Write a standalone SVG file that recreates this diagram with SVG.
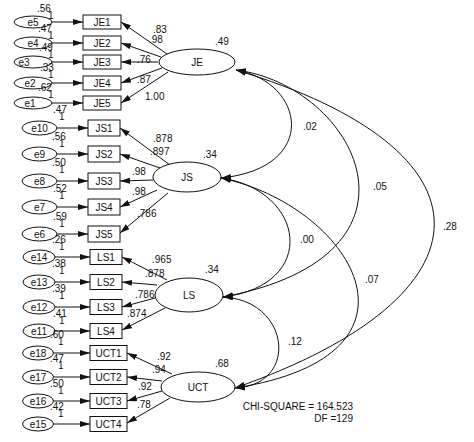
<svg xmlns="http://www.w3.org/2000/svg" width="474" height="442" viewBox="0 0 474 442">
<style>
text{font-family:"Liberation Sans",Arial,sans-serif;font-size:10px;fill:#111}
.c{text-anchor:middle}
.n ellipse,.n rect{fill:#fff;stroke:#111;stroke-width:1}
.ln{fill:none;stroke:#111;stroke-width:1}
.a{marker-end:url(#ah)}
.d{marker-start:url(#ah);marker-end:url(#ah)}
</style>
<defs>
<marker id="ah" markerWidth="10" markerHeight="6" refX="10" refY="3" orient="auto-start-reverse" markerUnits="userSpaceOnUse"><path d="M0,0 L10,3 L0,6 z" fill="#111"/></marker>
</defs>
<rect width="474" height="442" fill="#fff"/>
<g id="connectors" class="ln">
<line class="a" x1="52" y1="22" x2="83" y2="22"/>
<line class="a" x1="52" y1="43" x2="83" y2="43"/>
<line class="a" x1="52" y1="62" x2="83" y2="62"/>
<line class="a" x1="52" y1="83" x2="83" y2="83"/>
<line class="a" x1="52" y1="103" x2="83" y2="103"/>
<line class="a" x1="57" y1="128" x2="88" y2="128"/>
<line class="a" x1="57" y1="154" x2="88" y2="154"/>
<line class="a" x1="57" y1="181" x2="88" y2="181"/>
<line class="a" x1="57" y1="207" x2="88" y2="207"/>
<line class="a" x1="57" y1="234" x2="88" y2="234"/>
<line class="a" x1="55" y1="257" x2="90" y2="257"/>
<line class="a" x1="55" y1="282" x2="90" y2="282"/>
<line class="a" x1="55" y1="307" x2="90" y2="307"/>
<line class="a" x1="55" y1="331" x2="90" y2="331"/>
<line class="a" x1="53" y1="353" x2="90" y2="353"/>
<line class="a" x1="53" y1="377" x2="90" y2="377"/>
<line class="a" x1="53" y1="401" x2="90" y2="401"/>
<line class="a" x1="53" y1="424" x2="90" y2="424"/>
<line class="a" x1="167" y1="54" x2="121" y2="22"/>
<line class="a" x1="161" y1="57" x2="121" y2="43"/>
<line class="a" x1="158" y1="62" x2="121" y2="62"/>
<line class="a" x1="162" y1="68" x2="121" y2="83"/>
<line class="a" x1="168" y1="72" x2="121" y2="103"/>
<line class="a" x1="170" y1="165" x2="120" y2="128"/>
<line class="a" x1="160" y1="168" x2="120" y2="154"/>
<line class="a" x1="153" y1="180" x2="120" y2="181"/>
<line class="a" x1="157" y1="190" x2="120" y2="207"/>
<line class="a" x1="168" y1="193" x2="120" y2="233"/>
<line class="a" x1="167" y1="280" x2="122" y2="257"/>
<line class="a" x1="157" y1="285" x2="122" y2="282"/>
<line class="a" x1="155" y1="298" x2="122" y2="307"/>
<line class="a" x1="165" y1="308" x2="122" y2="330"/>
<line class="a" x1="172" y1="374" x2="127" y2="353"/>
<line class="a" x1="162" y1="381" x2="127" y2="377"/>
<line class="a" x1="162" y1="391" x2="127" y2="401"/>
<line class="a" x1="170" y1="398" x2="127" y2="423"/>
<path class="d" d="M236,70 C305,82 320,168 221,178"/>
<path class="d" d="M236,70 C355,85 445,255 223,297"/>
<path class="d" d="M236,70 C501,150 500,295 235,388"/>
<path class="d" d="M221,178 C305,190 320,285 223,297"/>
<path class="d" d="M221,178 C350,205 445,355 235,388"/>
<path class="d" d="M223,297 C290,300 300,385 235,388"/>
</g>
<g id="e5" class="n"><ellipse cx="33" cy="22" rx="19" ry="6"/><text class="c" x="33" y="26">e5</text></g>
<g id="e4" class="n"><ellipse cx="33" cy="43" rx="19" ry="6"/><text class="c" x="33" y="47">e4</text></g>
<g id="e3" class="n"><ellipse cx="33" cy="62" rx="19" ry="6"/><text class="c" x="24" y="66">e3</text></g>
<g id="e2" class="n"><ellipse cx="33" cy="83" rx="19" ry="6"/><text class="c" x="30" y="87">e2</text></g>
<g id="e1" class="n"><ellipse cx="33" cy="103" rx="19" ry="6"/><text class="c" x="30" y="107">e1</text></g>
<g id="e10" class="n"><ellipse cx="39.5" cy="128" rx="17.5" ry="7"/><text class="c" x="39.5" y="132">e10</text></g>
<g id="e9" class="n"><ellipse cx="39.5" cy="154" rx="17.5" ry="7"/><text class="c" x="39.5" y="158">e9</text></g>
<g id="e8" class="n"><ellipse cx="39.5" cy="181" rx="17.5" ry="7"/><text class="c" x="39.5" y="185">e8</text></g>
<g id="e7" class="n"><ellipse cx="39.5" cy="207" rx="17.5" ry="7"/><text class="c" x="39.5" y="211">e7</text></g>
<g id="e6" class="n"><ellipse cx="39.5" cy="234" rx="17.5" ry="7"/><text class="c" x="39.5" y="238">e6</text></g>
<g id="e14" class="n"><ellipse cx="39" cy="257" rx="16" ry="7"/><text class="c" x="39" y="261">e14</text></g>
<g id="e13" class="n"><ellipse cx="39" cy="282" rx="16" ry="7"/><text class="c" x="39" y="286">e13</text></g>
<g id="e12" class="n"><ellipse cx="39" cy="307" rx="16" ry="7"/><text class="c" x="39" y="311">e12</text></g>
<g id="e11" class="n"><ellipse cx="39" cy="331" rx="16" ry="7"/><text class="c" x="39" y="335">e11</text></g>
<g id="e18" class="n"><ellipse cx="38" cy="353" rx="15.5" ry="7"/><text class="c" x="38" y="357">e18</text></g>
<g id="e17" class="n"><ellipse cx="38" cy="377" rx="15.5" ry="7"/><text class="c" x="38" y="381">e17</text></g>
<g id="e16" class="n"><ellipse cx="38" cy="401" rx="15.5" ry="7"/><text class="c" x="38" y="405">e16</text></g>
<g id="e15" class="n"><ellipse cx="38" cy="424" rx="15.5" ry="7"/><text class="c" x="38" y="428">e15</text></g>
<g id="JE1" class="n"><rect x="83" y="15" width="38" height="14"/><text class="c" x="102" y="26">JE1</text></g>
<g id="JE2" class="n"><rect x="83" y="36" width="38" height="14"/><text class="c" x="102" y="47">JE2</text></g>
<g id="JE3" class="n"><rect x="83" y="55" width="38" height="14"/><text class="c" x="102" y="66">JE3</text></g>
<g id="JE4" class="n"><rect x="83" y="76" width="38" height="14"/><text class="c" x="102" y="87">JE4</text></g>
<g id="JE5" class="n"><rect x="83" y="96" width="38" height="14"/><text class="c" x="102" y="107">JE5</text></g>
<g id="JS1" class="n"><rect x="88" y="120" width="32" height="16"/><text class="c" x="104" y="132">JS1</text></g>
<g id="JS2" class="n"><rect x="88" y="146" width="32" height="16"/><text class="c" x="104" y="158">JS2</text></g>
<g id="JS3" class="n"><rect x="88" y="173" width="32" height="16"/><text class="c" x="104" y="185">JS3</text></g>
<g id="JS4" class="n"><rect x="88" y="199" width="32" height="16"/><text class="c" x="104" y="211">JS4</text></g>
<g id="JS5" class="n"><rect x="88" y="226" width="32" height="16"/><text class="c" x="104" y="238">JS5</text></g>
<g id="LS1" class="n"><rect x="90" y="249.5" width="32" height="15"/><text class="c" x="106" y="261">LS1</text></g>
<g id="LS2" class="n"><rect x="90" y="274.5" width="32" height="15"/><text class="c" x="106" y="286">LS2</text></g>
<g id="LS3" class="n"><rect x="90" y="299.5" width="32" height="15"/><text class="c" x="106" y="311">LS3</text></g>
<g id="LS4" class="n"><rect x="90" y="323.5" width="32" height="15"/><text class="c" x="106" y="335">LS4</text></g>
<g id="UCT1" class="n"><rect x="90" y="345.5" width="37" height="15"/><text class="c" x="108.5" y="357">UCT1</text></g>
<g id="UCT2" class="n"><rect x="90" y="369.5" width="37" height="15"/><text class="c" x="108.5" y="381">UCT2</text></g>
<g id="UCT3" class="n"><rect x="90" y="393.5" width="37" height="15"/><text class="c" x="108.5" y="405">UCT3</text></g>
<g id="UCT4" class="n"><rect x="90" y="416.5" width="37" height="15"/><text class="c" x="108.5" y="428">UCT4</text></g>
<g id="JE" class="n"><ellipse cx="197" cy="62" rx="38" ry="13"/><text class="c" x="197" y="66">JE</text></g>
<g id="JS" class="n"><ellipse cx="187" cy="177" rx="34" ry="15"/><text class="c" x="187" y="181">JS</text></g>
<g id="LS" class="n"><ellipse cx="189" cy="295" rx="34" ry="17"/><text class="c" x="189" y="299">LS</text></g>
<g id="UCT" class="n"><ellipse cx="198" cy="387" rx="37" ry="15"/><text class="c" x="198" y="391">UCT</text></g>
<g id="labels">
<text x="37" y="12">.56</text><text x="48" y="19">1</text>
<text x="38" y="32">.47</text><text x="48" y="39">1</text>
<text x="39" y="51">.49</text><text x="48" y="58">1</text>
<text x="40" y="71">.33</text><text x="48" y="78">1</text>
<text x="38" y="91">.62</text><text x="48" y="98">1</text>
<text x="53" y="113">.47</text><text x="59" y="120">1</text>
<text x="52" y="140">.56</text><text x="59" y="147">1</text>
<text x="52" y="166">.50</text><text x="59" y="173">1</text>
<text x="53" y="192">.52</text><text x="59" y="199">1</text>
<text x="53" y="220">.59</text><text x="59" y="227">1</text>
<text x="52" y="243">.26</text><text x="59" y="250">1</text>
<text x="52" y="267">.38</text><text x="59" y="274">1</text>
<text x="52" y="292">.39</text><text x="59" y="299">1</text>
<text x="53" y="317">.41</text><text x="59" y="324">1</text>
<text x="50" y="338">.60</text><text x="58" y="345">1</text>
<text x="50" y="362">.47</text><text x="58" y="369">1</text>
<text x="50" y="387">.50</text><text x="58" y="394">1</text>
<text x="50" y="410">.42</text><text x="58" y="417">1</text>
<text x="153" y="33">.83</text><text x="149" y="43">.98</text><text x="137" y="63">.76</text><text x="137" y="83">.87</text><text x="145" y="100">1.00</text>
<text x="153" y="142">.878</text><text x="150" y="155">.897</text><text x="132" y="175">.98</text><text x="132" y="195">.98</text><text x="137" y="217">.786</text>
<text x="152" y="263">.965</text><text x="145" y="277">.878</text><text x="135" y="298">.786</text><text x="127" y="317">.874</text>
<text x="157" y="360">.92</text><text x="152" y="373">.94</text><text x="138" y="390">.92</text><text x="137" y="408">.78</text>
<text x="215" y="45">.49</text><text x="203" y="158">.34</text><text x="205" y="273">.34</text><text x="215" y="367">.68</text>
<text x="303" y="130">.02</text><text x="373" y="190">.05</text><text x="443" y="230">.28</text>
<text x="300" y="243">.00</text><text x="365" y="283">.07</text><text x="288" y="345">.12</text>
<text x="353" y="410" style="text-anchor:end">CHI-SQUARE = 164.523</text>
<text x="353" y="422" style="text-anchor:end">DF =129</text>
</g>
</svg>
